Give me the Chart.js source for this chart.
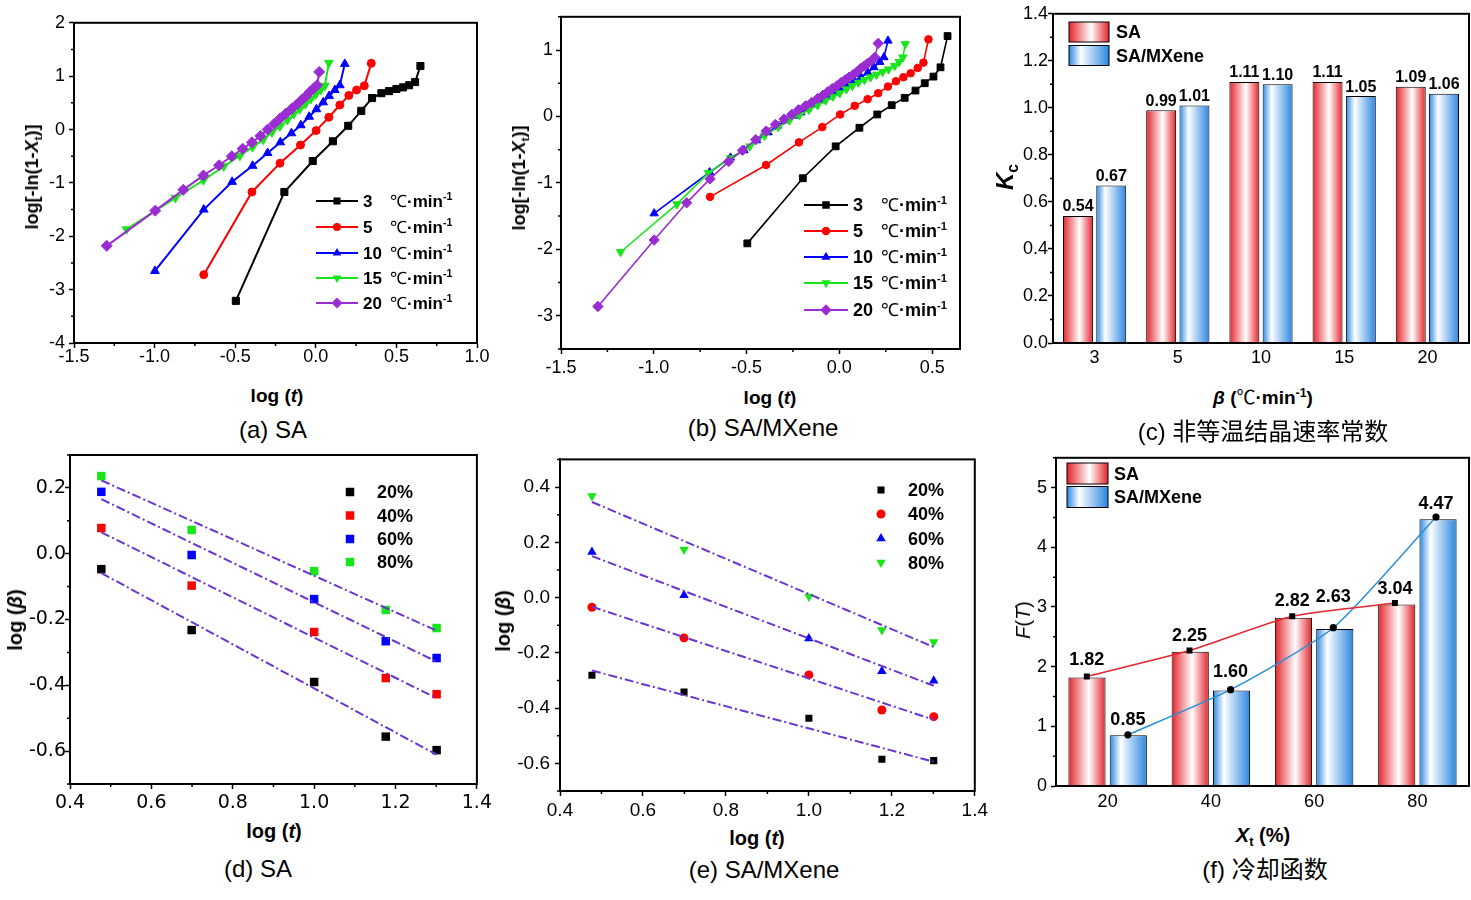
<!DOCTYPE html>
<html>
<head>
<meta charset="utf-8">
<title>SA / SA-MXene crystallization kinetics</title>
<script src="https://cdn.jsdelivr.net/npm/chart.js@4.4.1/dist/chart.umd.min.js"></script>
<style>
  html, body { margin: 0; padding: 0; background: #fff; }
  body { position: relative; width: 1471px; height: 900px; overflow: hidden; color: #000;
         font-family: "Liberation Sans", Arial, "Noto Sans CJK SC", sans-serif; }
  canvas { position: absolute; }
  .t { position: absolute; z-index: 2; white-space: nowrap; line-height: 1; transform: translate(-50%, -50%); }
  .b { font-weight: bold; }
  .rot { transform: translate(-50%, -50%) rotate(-90deg); }
  .cap { font-size: 24px; }
  sub, sup { font-size: 65%; line-height: 0; }
  sub { vertical-align: -0.3em; }
  sup { vertical-align: 0.55em; }
  .n { font-weight: normal; }
</style>
</head>
<body>
<!-- (a) -->
<div class="t b rot" style="left:32px;top:177px;font-size:18px">log[-ln(1-<i>X</i><sub>t</sub>)]</div>
<div class="t b" style="left:277px;top:395px;font-size:19px">log (<i>t</i>)</div>
<div class="t cap" style="left:273px;top:430px">(a) SA</div>
<!-- (b) -->
<div class="t b rot" style="left:519px;top:178px;font-size:18px">log[-ln(1-<i>X</i><sub>t</sub>)]</div>
<div class="t b" style="left:770px;top:397px;font-size:19px">log (<i>t</i>)</div>
<div class="t cap" style="left:763px;top:428px">(b) SA/MXene</div>
<!-- (c) -->
<div class="t b rot" style="left:1005px;top:177px;font-size:24px"><i>K</i><sub>c</sub></div>
<div class="t b" style="left:1263px;top:397px;font-size:19px"><i>β</i> (<span class="n">℃</span>·min<sup>-1</sup>)</div>
<div class="t cap" style="left:1263px;top:432px">(c) 非等温结晶速率常数</div>
<!-- (d) -->
<div class="t b rot" style="left:15px;top:620px;font-size:20px">log (<i>β</i>)</div>
<div class="t b" style="left:274px;top:831px;font-size:20px">log (<i>t</i>)</div>
<div class="t cap" style="left:258px;top:869px">(d) SA</div>
<!-- (e) -->
<div class="t b rot" style="left:503px;top:621px;font-size:20px">log (<i>β</i>)</div>
<div class="t b" style="left:757px;top:838px;font-size:20px">log (<i>t</i>)</div>
<div class="t cap" style="left:764px;top:870px">(e) SA/MXene</div>
<!-- (f) -->
<div class="t rot" style="left:1023px;top:620px;font-size:20px"><i>F</i>(<i>T</i>)</div>
<div class="t b" style="left:1263px;top:835px;font-size:20px"><i>X</i><sub>t</sub> (%)</div>
<div class="t cap" style="left:1265px;top:870px">(f) 冷却函数</div>

<script>
const FONT = '"Liberation Sans", Arial, sans-serif';
const WIDE = '"DejaVu Sans", Verdana, sans-serif';

// ---------- data ----------
const rateLabels = ['3', '5', '10', '15', '20'];

// (a) SA: log t vs log[-ln(1-Xt)]
const aX3 = [-0.496, -0.195, -0.019, 0.106, 0.201, 0.282, 0.349, 0.407, 0.454, 0.500, 0.541, 0.579, 0.616, 0.649];
const aY3 = [-3.21, -1.17, -0.59, -0.22, 0.07, 0.35, 0.59, 0.68, 0.72, 0.76, 0.79, 0.83, 0.89, 1.19];
const aX5 = [-0.695, -0.396, -0.222, -0.095, 0.002, 0.081, 0.149, 0.205, 0.253, 0.301, 0.344];
const aY5 = [-2.72, -1.17, -0.63, -0.29, -0.02, 0.23, 0.46, 0.64, 0.74, 0.82, 1.24];
const aX10 = [-0.998, -0.695, -0.519, -0.392, -0.299, -0.220, -0.151, -0.093, -0.041, 0.004, 0.046, 0.083, 0.118, 0.149, 0.180];
const aY10 = [-2.65, -1.50, -0.98, -0.68, -0.44, -0.24, -0.07, 0.08, 0.24, 0.38, 0.51, 0.63, 0.74, 0.83, 1.23];
const aX15 = [-1.174, -0.871, -0.697, -0.571, -0.471, -0.392, -0.326, -0.272, -0.222, -0.176, -0.137, -0.100, -0.064, -0.031, 0.000, 0.029, 0.056, 0.081];
const aY15 = [-1.87, -1.28, -0.95, -0.69, -0.49, -0.33, -0.19, -0.05, 0.06, 0.18, 0.29, 0.38, 0.48, 0.57, 0.66, 0.74, 0.82, 1.25];
const aX20 = [-1.297, -0.996, -0.822, -0.697, -0.600, -0.521, -0.454, -0.396, -0.344, -0.299, -0.257, -0.220, -0.185, -0.149, -0.118, -0.089, -0.060, -0.035, -0.010, 0.008, 0.021];
const aY20 = [-2.18, -1.52, -1.13, -0.86, -0.67, -0.50, -0.36, -0.24, -0.12, 0.00, 0.11, 0.21, 0.30, 0.39, 0.47, 0.55, 0.63, 0.71, 0.78, 0.83, 1.08];

// (b) SA/MXene
const bX3 = [-0.496, -0.197, -0.020, 0.108, 0.204, 0.282, 0.352, 0.410, 0.460, 0.507, 0.545, 0.583];
const bY3 = [-1.91, -0.93, -0.45, -0.17, 0.03, 0.17, 0.28, 0.39, 0.50, 0.60, 0.74, 1.21];
const bX5 = [-0.697, -0.395, -0.218, -0.092, 0.004, 0.083, 0.152, 0.209, 0.262, 0.305, 0.345, 0.384, 0.422, 0.453, 0.480];
const bY5 = [-1.21, -0.73, -0.39, -0.16, 0.03, 0.16, 0.26, 0.35, 0.45, 0.53, 0.59, 0.65, 0.73, 0.81, 1.16];
const bX10 = [-0.998, -0.699, -0.587, -0.514, -0.446, -0.384, -0.334, -0.287, -0.247, -0.208, -0.171, -0.135, -0.099, -0.063, -0.027, 0.009, 0.045, 0.081, 0.117, 0.153, 0.186, 0.218, 0.240, 0.262];
const bY10 = [-1.46, -0.84, -0.62, -0.51, -0.36, -0.24, -0.14, -0.06, 0.01, 0.06, 0.12, 0.18, 0.24, 0.30, 0.36, 0.42, 0.48, 0.54, 0.59, 0.66, 0.74, 0.82, 0.89, 1.14];
const bX15 = [-1.179, -0.875, -0.706, -0.587, -0.482, -0.403, -0.330, -0.269, -0.215, -0.164, -0.117, -0.074, -0.034, 0.002, 0.038, 0.070, 0.103, 0.135, 0.168, 0.200, 0.233, 0.265, 0.298, 0.322, 0.342, 0.355];
const bY15 = [-2.04, -1.32, -0.85, -0.63, -0.45, -0.29, -0.16, -0.06, 0.02, 0.10, 0.17, 0.24, 0.30, 0.35, 0.41, 0.46, 0.51, 0.55, 0.59, 0.63, 0.67, 0.71, 0.76, 0.82, 0.89, 1.09];
const bX20 = [-1.301, -0.998, -0.823, -0.697, -0.597, -0.522, -0.451, -0.395, -0.345, -0.298, -0.256, -0.220, -0.182, -0.150, -0.117, -0.088, -0.063, -0.038, -0.014, 0.009, 0.031, 0.052, 0.074, 0.094, 0.114, 0.134, 0.153, 0.173, 0.191, 0.209];
const bY20 = [-2.86, -1.86, -1.30, -0.94, -0.68, -0.51, -0.35, -0.22, -0.12, -0.04, 0.03, 0.10, 0.16, 0.21, 0.27, 0.32, 0.37, 0.42, 0.46, 0.51, 0.55, 0.59, 0.63, 0.67, 0.72, 0.76, 0.80, 0.84, 0.89, 1.10];

// (c) Kc
const kcSA = [0.54, 0.99, 1.11, 1.11, 1.09];
const kcMX = [0.67, 1.01, 1.10, 1.05, 1.06];

// (d)/(e) Mo plots
const xtLabels = ['20%', '40%', '60%', '80%'];
const logRate = [0.477, 0.699, 1.000, 1.176, 1.301];
const fitX = [0.477, 1.301];
const dY20 = [-0.047, -0.232, -0.390, -0.556, -0.597];
const dY40 = [0.078, -0.097, -0.238, -0.378, -0.427];
const dY60 = [0.188, -0.004, -0.138, -0.266, -0.317];
const dY80 = [0.236, 0.072, -0.053, -0.171, -0.226];
const dFit20 = [-0.059, -0.611];
const dFit40 = [0.065, -0.439];
const dFit60 = [0.166, -0.328];
const dFit80 = [0.223, -0.234];
const eY20 = [-0.281, -0.342, -0.437, -0.585, -0.590];
const eY40 = [-0.035, -0.146, -0.280, -0.407, -0.431];
const eY60 = [0.165, 0.008, -0.148, -0.267, -0.301];
const eY80 = [0.368, 0.174, 0.004, -0.117, -0.161];
const eFit20 = [-0.264, -0.594];
const eFit40 = [-0.033, -0.442];
const eFit60 = [0.150, -0.319];
const eFit80 = [0.346, -0.179];

// (f) cooling function
const xtCats = ['20', '40', '60', '80'];
const fSA = [1.82, 2.25, 2.82, 3.04];
const fMX = [0.85, 1.60, 2.63, 4.47];

// tick values
const aXTicks = [-1.5, -1.0, -0.5, 0.0, 0.5, 1.0];
const aYTicks = [-4, -3, -2, -1, 0, 1, 2];
const bXTicks = [-1.5, -1.0, -0.5, 0.0, 0.5];
const bYTicks = [-3, -2, -1, 0, 1];
const cYTicks = [0, 0.2, 0.4, 0.6, 0.8, 1.0, 1.2, 1.4];
const deXTicks = [0.4, 0.6, 0.8, 1.0, 1.2, 1.4];
const dYTicks = [-0.6, -0.4, -0.2, 0.0, 0.2];
const eYTicks = [-0.6, -0.4, -0.2, 0.0, 0.2, 0.4];
const fYTicks = [0, 1, 2, 3, 4, 5];

// ---------- styles ----------
const rateColors = ['#000000', '#ff0000', '#0000ff', '#19e619', '#9a2dd2'];
const rateMarks = [['rect', 0], ['circle', 0], ['triangle', 0], ['triangle', 180], ['rectRot', 0]];
const xtColors = ['#000000', '#ff0000', '#0000ff', '#19e619'];
const eMarks = [['rect', 0], ['circle', 0], ['triangle', 0], ['triangle', 180]];
const fitColor = '#6a35d0';
const redStops = [[0, '#e4232b'], [0.55, '#ffffff'], [1, '#e4232b']];
const blueStops = [[0, '#2a86e0'], [0.3, '#ffffff'], [1, '#2a86e0']];
const unitSegs = [{ t: '℃' }, { t: '·min', b: true }, { t: '-1', b: true, sup: true }];

// ---------- helpers ----------
function placeCanvas(area, pad) {
  const c = document.createElement('canvas');
  const w = area.r - area.l + pad.l + pad.r;
  const h = area.b - area.t + pad.t + pad.b;
  c.width = w;
  c.height = h;
  c.style.left = (area.l - pad.l) + 'px';
  c.style.top = (area.t - pad.t) + 'px';
  c.style.width = w + 'px';
  c.style.height = h + 'px';
  document.body.appendChild(c);
  return c;
}

function minorOf(ticks, min, max) {
  const step = ticks[1] - ticks[0];
  const out = [];
  ticks.forEach((v) => {
    [v - step / 2, v + step / 2].forEach((m) => {
      if (m >= min - 1e-9 && m <= max + 1e-9 && !out.some((o) => Math.abs(o - m) < 1e-9)) out.push(m);
    });
  });
  return out;
}

function valueAxis(o) {
  return {
    type: 'linear',
    min: o.min,
    max: o.max,
    afterBuildTicks: (s) => { s.ticks = o.ticks.map((v) => ({ value: v })); },
    afterFit: (s) => { if (s.isHorizontal()) s.height = o.fit; else s.width = o.fit; },
    ticks: { color: '#000', font: { family: o.family || FONT, size: o.font }, padding: o.pad, autoSkip: false, maxRotation: 0, callback: o.fmt },
    grid: { display: true, drawOnChartArea: false, drawTicks: true, tickLength: 5, tickWidth: 1.5, tickColor: '#000' },
    border: { display: true, color: '#000', width: 2 },
  };
}

function catAxis(o) {
  return {
    type: 'category',
    offset: true,
    afterFit: (s) => { s.height = o.fit; },
    ticks: { color: '#000', font: { family: FONT, size: o.font }, padding: o.pad, autoSkip: false, maxRotation: 0 },
    grid: { display: false, drawTicks: false },
    border: { display: true, color: '#000', width: 2 },
  };
}

function baseOptions(scales, pad) {
  return {
    responsive: false,
    animation: false,
    events: [],
    layout: { padding: { left: 0, top: pad.t, right: pad.r, bottom: 0 } },
    plugins: { legend: { display: false }, tooltip: { enabled: false } },
    scales,
  };
}

function drawMark(ctx, style, rot, r, x, y, color) {
  ctx.save();
  ctx.translate(x, y);
  ctx.rotate((rot * Math.PI) / 180);
  ctx.fillStyle = color;
  ctx.beginPath();
  if (style === 'circle') {
    ctx.arc(0, 0, r, 0, Math.PI * 2);
  } else if (style === 'rect') {
    const s = r * Math.SQRT1_2;
    ctx.rect(-s, -s, 2 * s, 2 * s);
  } else if (style === 'rectRot') {
    ctx.moveTo(0, -r); ctx.lineTo(r, 0); ctx.lineTo(0, r); ctx.lineTo(-r, 0); ctx.closePath();
  } else {
    for (let k = 0; k < 3; k++) {
      const a = (k * 2 * Math.PI) / 3;
      if (k === 0) ctx.moveTo(Math.sin(a) * r, -Math.cos(a) * r);
      else ctx.lineTo(Math.sin(a) * r, -Math.cos(a) * r);
    }
    ctx.closePath();
  }
  ctx.fill();
  ctx.restore();
}

function drawRich(ctx, x, yMid, segs, size) {
  let cx = x;
  ctx.textAlign = 'left';
  ctx.textBaseline = 'alphabetic';
  ctx.fillStyle = '#000';
  segs.forEach((s) => {
    const fs = s.sup || s.sub ? size * 0.62 : size;
    ctx.font = `${s.i ? 'italic ' : ''}${s.b ? 'bold ' : ''}${fs}px ${FONT}`;
    const dy = s.sup ? -size * 0.42 : s.sub ? size * 0.18 : 0;
    ctx.fillText(s.t, cx, yMid + size * 0.36 + dy);
    cx += ctx.measureText(s.t).width;
  });
}

function gradientFor(ctx, x1, x2, stops) {
  const g = ctx.createLinearGradient(x1, 0, x2, 0);
  stops.forEach(([o, col]) => g.addColorStop(o, col));
  return g;
}

function barFill(stops) {
  return (c) => {
    const el = c.element;
    if (c.type !== 'data' || !el || !Number.isFinite(el.x) || !el.width) return stops[0][1];
    return gradientFor(c.chart.ctx, el.x - el.width / 2, el.x + el.width / 2, stops);
  };
}

// frame on all four sides plus minor ticks
function makeFrame(xMinor, yMinor) {
  return {
    id: 'frame',
    afterDraw(chart) {
      const { ctx, chartArea: a } = chart;
      ctx.save();
      ctx.strokeStyle = '#000';
      ctx.lineWidth = 2;
      ctx.strokeRect(a.left, a.top, a.right - a.left, a.bottom - a.top);
      ctx.lineWidth = 1.5;
      ctx.beginPath();
      xMinor.forEach((v) => {
        const px = chart.scales.x.getPixelForValue(v);
        ctx.moveTo(px, a.bottom); ctx.lineTo(px, a.bottom + 3);
      });
      yMinor.forEach((v) => {
        const py = chart.scales.y.getPixelForValue(v);
        ctx.moveTo(a.left - 3, py); ctx.lineTo(a.left, py);
      });
      ctx.stroke();
      ctx.restore();
    },
  };
}

// legend drawn inside the plot, items in page coordinates
function makeLegend(items) {
  return {
    id: 'inlegend',
    afterDraw(chart) {
      const ctx = chart.ctx;
      const ox = chart.canvas.offsetLeft;
      const oy = chart.canvas.offsetTop;
      ctx.save();
      items.forEach((it) => {
        const y = it.y - oy;
        if (it.line) {
          ctx.strokeStyle = it.color;
          ctx.lineWidth = it.lw || 2;
          ctx.beginPath();
          ctx.moveTo(it.line[0] - ox, y);
          ctx.lineTo(it.line[1] - ox, y);
          ctx.stroke();
        }
        if (it.mark) drawMark(ctx, it.mark[0], it.mark[1], it.r, it.mx - ox, y, it.color);
        if (it.box) {
          const [x1, x2, h] = it.box;
          ctx.fillStyle = gradientFor(ctx, x1 - ox, x2 - ox, it.stops);
          ctx.fillRect(x1 - ox, y - h / 2, x2 - x1, h);
          ctx.strokeStyle = '#000';
          ctx.lineWidth = 1;
          ctx.strokeRect(x1 - ox, y - h / 2, x2 - x1, h);
        }
        it.texts.forEach((t) => drawRich(ctx, t.x - ox, y, t.segs, it.size));
      });
      ctx.restore();
    },
  };
}

function makeValueLabels(dsIdx, size, raise) {
  return {
    id: 'vlabels',
    afterDatasetsDraw(chart) {
      const ctx = chart.ctx;
      ctx.save();
      ctx.fillStyle = '#000';
      ctx.font = `bold ${size}px ${FONT}`;
      ctx.textAlign = 'center';
      ctx.textBaseline = 'middle';
      dsIdx.forEach((d, j) => {
        const vals = chart.data.datasets[d].data;
        chart.getDatasetMeta(d).data.forEach((el, i) => {
          const v = typeof vals[i] === 'object' ? vals[i].y : vals[i];
          ctx.fillText(v.toFixed(2), el.x, el.y - raise[j][i]);
        });
      });
      ctx.restore();
    },
  };
}

function rateSeries(xs, ys, i, lw, r) {
  return {
    label: rateLabels[i] + ' ℃·min-1',
    data: xs.map((x, k) => ({ x, y: ys[k] })),
    showLine: true,
    borderColor: rateColors[i],
    backgroundColor: rateColors[i],
    borderWidth: lw,
    pointStyle: rateMarks[i][0],
    pointRotation: rateMarks[i][1],
    pointRadius: r,
    pointBorderWidth: 1,
    pointBorderColor: rateColors[i],
    order: -i,
  };
}

function moSeries(ys, i, marks, r) {
  return {
    label: xtLabels[i],
    data: logRate.map((x, k) => ({ x, y: ys[k] })),
    showLine: false,
    backgroundColor: xtColors[i],
    borderColor: xtColors[i],
    pointStyle: marks[i][0],
    pointRotation: marks[i][1],
    pointRadius: r[i],
    pointBorderWidth: 0,
    order: 1,
  };
}

function fitSeries(ends) {
  return {
    data: fitX.map((x, k) => ({ x, y: ends[k] })),
    showLine: true,
    borderColor: fitColor,
    borderWidth: 2,
    borderDash: [9, 3, 2, 3],
    pointRadius: 0,
    order: 0,
  };
}

const fmt1 = (v) => v.toFixed(1);
const fmt0 = (v) => String(Math.round(v));

// ---------- (a) ----------
{
  const area = { l: 74, t: 20, r: 477, b: 343 };
  const pad = { l: 70, t: 12, r: 14, b: 30 };
  const cv = placeCanvas(area, pad);
  const sets = [[aX3, aY3], [aX5, aY5], [aX10, aY10], [aX15, aY15], [aX20, aY20]];
  const radius = [5, 4, 5, 5, 5.5];
  const legendY = [201, 227, 253, 278, 303];
  const legend = rateLabels.map((r, i) => ({
    y: legendY[i], color: rateColors[i], line: [316, 358], mark: rateMarks[i], r: radius[i], mx: 337, size: 17,
    texts: [{ x: 363, segs: [{ t: r, b: true }] }, { x: 390, segs: unitSegs }],
  }));
  new Chart(cv, {
    type: 'scatter',
    data: { datasets: sets.map(([xs, ys], i) => rateSeries(xs, ys, i, 2, radius[i])) },
    options: baseOptions({
      x: valueAxis({ min: -1.5, max: 1.0, ticks: aXTicks, fmt: fmt1, font: 18, pad: -2, fit: pad.b }),
      y: valueAxis({ min: -4, max: 2, ticks: aYTicks, fmt: fmt0, font: 18, pad: 4, fit: pad.l }),
    }, pad),
    plugins: [makeFrame(minorOf(aXTicks, -1.5, 1.0), minorOf(aYTicks, -4, 2)), makeLegend(legend)],
  });
}

// ---------- (b) ----------
{
  const area = { l: 561, t: 13, r: 960, b: 349 };
  const pad = { l: 60, t: 10, r: 12, b: 30 };
  const cv = placeCanvas(area, pad);
  const sets = [[bX3, bY3], [bX5, bY5], [bX10, bY10], [bX15, bY15], [bX20, bY20]];
  const radius = [4.8, 3.8, 4.8, 4.8, 5.2];
  const legendY = [205, 231, 257, 283, 310];
  const legend = rateLabels.map((r, i) => ({
    y: legendY[i], color: rateColors[i], line: [804, 848], mark: rateMarks[i], r: radius[i] + 0.5, mx: 826, size: 18,
    texts: [{ x: 853, segs: [{ t: r, b: true }] }, { x: 881, segs: unitSegs }],
  }));
  new Chart(cv, {
    type: 'scatter',
    data: { datasets: sets.map(([xs, ys], i) => rateSeries(xs, ys, i, 1.6, radius[i])) },
    options: baseOptions({
      x: valueAxis({ min: -1.5, max: 0.65, ticks: bXTicks, fmt: fmt1, font: 18, pad: 3, fit: pad.b }),
      y: valueAxis({ min: -3.5, max: 1.5, ticks: bYTicks, fmt: fmt0, font: 18, pad: 3, fit: pad.l }),
    }, pad),
    plugins: [makeFrame(minorOf(bXTicks, -1.5, 0.65), minorOf(bYTicks, -3.5, 1.5)), makeLegend(legend)],
  });
}

// ---------- (c) ----------
{
  const area = { l: 1053, t: 13, r: 1469, b: 343 };
  const pad = { l: 55, t: 10, r: 2, b: 25 };
  const cv = placeCanvas(area, pad);
  const legend = [
    { y: 32, box: [1069, 1109, 20], stops: redStops, size: 18, texts: [{ x: 1116, segs: [{ t: 'SA', b: true }] }] },
    { y: 55.5, box: [1069, 1109, 20], stops: blueStops, size: 18, texts: [{ x: 1116, segs: [{ t: 'SA/MXene', b: true }] }] },
  ];
  const chart = new Chart(cv, {
    type: 'bar',
    data: {
      labels: rateLabels,
      datasets: [
        { label: 'SA', data: kcSA, backgroundColor: barFill(redStops), borderColor: '#000', borderWidth: 1, categoryPercentage: 0.8, barPercentage: 0.9 },
        { label: 'SA/MXene', data: kcMX, backgroundColor: barFill(blueStops), borderColor: '#000', borderWidth: 1, categoryPercentage: 0.8, barPercentage: 0.9 },
      ],
    },
    options: baseOptions({
      x: catAxis({ font: 18, pad: 4, fit: pad.b }),
      y: valueAxis({ min: 0, max: 1.4, ticks: cYTicks, fmt: fmt1, font: 18, pad: 0, fit: pad.l }),
    }, pad),
    plugins: [makeFrame([], minorOf(cYTicks, 0, 1.4)), makeLegend(legend), makeValueLabels([0, 1], 16, [kcSA.map(() => 9), kcMX.map(() => 9)])],
  });
  chart.update();
}

// ---------- (d) ----------
{
  const area = { l: 70, t: 455, r: 479, b: 784 };
  const pad = { l: 66, t: 12, r: 16, b: 30 };
  const cv = placeCanvas(area, pad);
  const marks = xtLabels.map(() => ['rect', 0]);
  const radius = [6, 6, 6, 6];
  const legendY = [492, 515.5, 539, 562];
  const legend = xtLabels.map((lab, i) => ({
    y: legendY[i], color: xtColors[i], mark: marks[i], r: 6, mx: 350, size: 18,
    texts: [{ x: 377, segs: [{ t: lab, b: true }] }],
  }));
  new Chart(cv, {
    type: 'scatter',
    data: {
      datasets: [
        moSeries(dY20, 0, marks, radius), moSeries(dY40, 1, marks, radius),
        moSeries(dY60, 2, marks, radius), moSeries(dY80, 3, marks, radius),
        fitSeries(dFit20), fitSeries(dFit40), fitSeries(dFit60), fitSeries(dFit80),
      ],
    },
    options: baseOptions({
      x: valueAxis({ min: 0.4, max: 1.4, ticks: deXTicks, fmt: fmt1, font: 19, family: WIDE, pad: 3, fit: pad.b }),
      y: valueAxis({ min: -0.7, max: 0.3, ticks: dYTicks, fmt: fmt1, font: 19, family: WIDE, pad: -1, fit: pad.l }),
    }, pad),
    plugins: [makeFrame(minorOf(deXTicks, 0.4, 1.4), minorOf(dYTicks, -0.7, 0.3)), makeLegend(legend)],
  });
}

// ---------- (e) ----------
{
  const area = { l: 560, t: 455, r: 977, b: 791 };
  const pad = { l: 58, t: 12, r: 14, b: 30 };
  const cv = placeCanvas(area, pad);
  const radius = [5, 4.5, 5.5, 5.5];
  const legendY = [490, 514, 538.5, 562.5];
  const legend = xtLabels.map((lab, i) => ({
    y: legendY[i], color: xtColors[i], mark: eMarks[i], r: radius[i], mx: 881, size: 18,
    texts: [{ x: 908, segs: [{ t: lab, b: true }] }],
  }));
  new Chart(cv, {
    type: 'scatter',
    data: {
      datasets: [
        moSeries(eY20, 0, eMarks, radius), moSeries(eY40, 1, eMarks, radius),
        moSeries(eY60, 2, eMarks, radius), moSeries(eY80, 3, eMarks, radius),
        fitSeries(eFit20), fitSeries(eFit40), fitSeries(eFit60), fitSeries(eFit80),
      ],
    },
    options: baseOptions({
      x: valueAxis({ min: 0.4, max: 1.4, ticks: deXTicks, fmt: fmt1, font: 19, pad: 3, fit: pad.b }),
      y: valueAxis({ min: -0.7, max: 0.5, ticks: eYTicks, fmt: fmt1, font: 19, pad: 5, fit: pad.l }),
    }, pad),
    plugins: [makeFrame(minorOf(deXTicks, 0.4, 1.4), minorOf(eYTicks, -0.7, 0.5)), makeLegend(legend)],
  });
}

// ---------- (f) ----------
{
  const area = { l: 1056, t: 455, r: 1469, b: 786 };
  const pad = { l: 50, t: 12, r: 2, b: 28 };
  const legend = [
    { y: 473.5, box: [1067, 1108, 21], stops: redStops, size: 18, texts: [{ x: 1114, segs: [{ t: 'SA', b: true }] }] },
    { y: 497, box: [1067, 1108, 21], stops: blueStops, size: 18, texts: [{ x: 1114, segs: [{ t: 'SA/MXene', b: true }] }] },
  ];
  const barsCanvas = placeCanvas(area, pad);
  const bars = new Chart(barsCanvas, {
    type: 'bar',
    data: {
      labels: xtCats,
      datasets: [
        { label: 'SA', data: fSA, backgroundColor: barFill(redStops), borderColor: '#000', borderWidth: 1, categoryPercentage: 0.8, barPercentage: 0.9 },
        { label: 'SA/MXene', data: fMX, backgroundColor: barFill(blueStops), borderColor: '#000', borderWidth: 1, categoryPercentage: 0.8, barPercentage: 0.9 },
      ],
    },
    options: baseOptions({
      x: catAxis({ font: 18, pad: 5, fit: pad.b }),
      y: valueAxis({ min: 0, max: 5.5, ticks: fYTicks, fmt: fmt0, font: 18, pad: 4, fit: pad.l }),
    }, pad),
    plugins: [makeFrame([], minorOf(fYTicks, 0, 5.5)), makeLegend(legend)],
  });
  bars.update();

  // trend lines through the bar tops, on an overlay sharing the same plot area.
  // Category i spans [i-0.5, i+0.5]; the two bars sit at i -/+ 0.2 (0.8 share split in two).
  const barOffset = 0.2;
  const labelRaise = [[16, 15, 15, 14], [15, 18, 31, 13]];
  const linesCanvas = placeCanvas(area, pad);
  new Chart(linesCanvas, {
    type: 'scatter',
    data: {
      datasets: [
        {
          label: 'SA', data: fSA.map((v, i) => ({ x: i - barOffset, y: v })), showLine: true,
          borderColor: '#e3262e', borderWidth: 1.5, tension: 0.2,
          pointStyle: 'rect', pointRadius: 4.2, pointBackgroundColor: '#000', pointBorderColor: '#000', pointBorderWidth: 0,
        },
        {
          label: 'SA/MXene', data: fMX.map((v, i) => ({ x: i + barOffset, y: v })), showLine: true,
          borderColor: '#2b8ed8', borderWidth: 1.5, tension: 0.2,
          pointStyle: 'circle', pointRadius: 3.6, pointBackgroundColor: '#000', pointBorderColor: '#000', pointBorderWidth: 0,
        },
      ],
    },
    options: {
      responsive: false,
      animation: false,
      events: [],
      layout: { padding: { left: pad.l, top: pad.t, right: pad.r, bottom: pad.b } },
      plugins: { legend: { display: false }, tooltip: { enabled: false } },
      scales: {
        x: { type: 'linear', display: false, min: -0.5, max: xtCats.length - 0.5 },
        y: { type: 'linear', display: false, min: 0, max: 5.5 },
      },
    },
    plugins: [makeValueLabels([0, 1], 18, labelRaise)],
  });
}
</script>
</body>
</html>
